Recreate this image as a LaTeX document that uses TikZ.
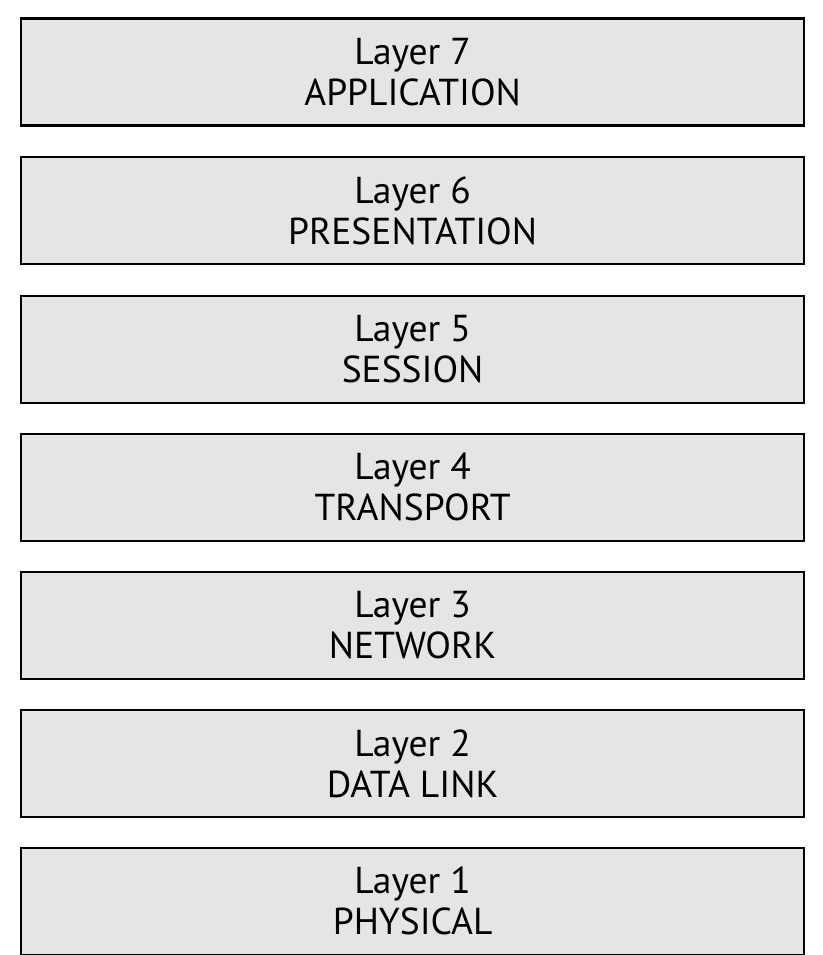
\documentclass[tikz,border=0pt]{standalone}
\usepackage{fontspec}
\setmainfont{PT Sans}
\begin{document}
\begin{tikzpicture}[x=1pt,y=-1pt,
  layerbox/.style={draw=black, line width=2.2pt, fill=black!10, minimum width=783pt, minimum height=107pt, inner sep=0pt, align=center, font=\fontsize{37.5}{41}\selectfont, anchor=north west}]
\useasboundingbox (0,0) rectangle (822,955);
\node[layerbox] (l7) at (20,17.5) {Layer 7\\APPLICATION};
\node[layerbox] (l6) at (20,156) {Layer 6\\PRESENTATION};
\node[layerbox] (l5) at (20,294.5) {Layer 5\\SESSION};
\node[layerbox] (l4) at (20,432.5) {Layer 4\\TRANSPORT};
\node[layerbox] (l3) at (20,570.5) {Layer 3\\NETWORK};
\node[layerbox] (l2) at (20,709) {Layer 2\\DATA LINK};
\node[layerbox] (l1) at (20,846.5) {Layer 1\\PHYSICAL};
\end{tikzpicture}
\end{document}
